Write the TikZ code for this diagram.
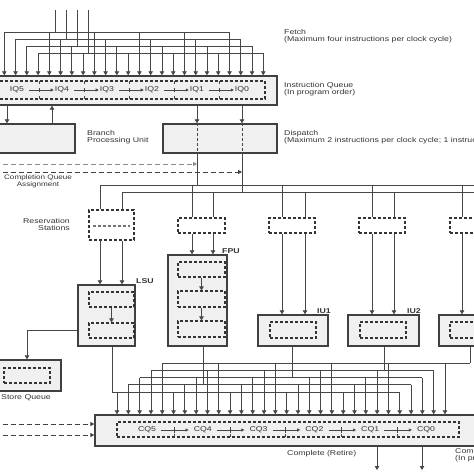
\documentclass[tikz,border=0pt]{standalone}
\usepackage{fontspec}
\setmainfont[FakeStretch=1.25]{Liberation Sans}
\usetikzlibrary{arrows.meta,fit,calc}

\tikzset{
  unitbox/.style={draw=black!75, fill=black!6, line width=1.4pt, inner sep=0pt},
  slotbox/.style={draw=black!80, line width=1.2pt, dash pattern=on 3pt off 2pt, inner sep=0pt},
  wire/.style={draw=black!72, line width=0.85pt},
  feed/.style={wire, -{Triangle[width=4.5pt,length=4pt]}},
  lbl/.style={font=\fontsize{7}{7.5}\selectfont, inner sep=0pt, text=black!80},
  unitname/.style={lbl, font=\fontsize{7}{7.5}\selectfont\bfseries},
  cqa/.style={line width=1pt, dash pattern=on 5pt off 3pt},
}

\begin{document}
\begin{tikzpicture}[x=1pt, y=-1pt]
\useasboundingbox (0,0) rectangle (474,474);
\clip (0,0) rectangle (474,474);

% boxes
\node[unitbox, fit={(-5,76) (277,105)}] (iq) {};
\node[slotbox, fit={(-5,81) (265,99)}] (iqslots) {};
\node[unitbox, fit={(-5,124) (75,153)}] (bpu) {};
\node[unitbox, fit={(163,124) (277,153)}] (disp) {};
\node[unitbox, fit={(78,285) (135,346)}] (lsu) {};
\node[unitbox, fit={(168,255) (227,346)}] (fpu) {};
\node[unitbox, fit={(258,315) (328,346)}] (iu1) {};
\node[unitbox, fit={(348,315) (419,346)}] (iu2) {};
\node[unitbox, fit={(439,315) (520,346)}] (mciu) {};
\node[unitbox, fit={(-5,360) (61,391)}] (sq) {};
\node[unitbox, fit={(95,415) (520,446)}] (cq) {};
\node[slotbox, fit={(117,422) (459,437)}] (cqslots) {};

% reservation stations
\node[slotbox, fit={(89,210) (134,240)}] (rsl) {};
\draw[slotbox, draw=black!55] (93,226) -- (130,226);
\node[slotbox, fit={(178,218) (225,233)}] (rsf) {};
\node[slotbox, fit={(269,218) (315,233)}] (rs1) {};
\node[slotbox, fit={(359,218) (405,233)}] (rs2) {};
\node[slotbox, fit={(450,218) (496,233)}] (rsm) {};

% slots inside the units
\node[slotbox, fit={(89,292) (134,307)}] (lsua) {};
\node[slotbox, fit={(89,323) (134,338)}] (lsub) {};
\draw[feed] (lsua) -- (lsub);
\node[slotbox, fit={(178,262) (225,277)}] (fpua) {};
\node[slotbox, fit={(178,291) (225,307)}] (fpub) {};
\node[slotbox, fit={(178,321) (225,337)}] (fpuc) {};
\draw[feed] (fpua) -- (fpub);
\draw[feed] (fpub) -- (fpuc);
\node[slotbox, fit={(270,322) (316,338)}] (iu1s) {};
\node[slotbox, fit={(360,322) (406,338)}] (iu2s) {};
\node[slotbox, fit={(450,322) (496,338)}] (mcius) {};
\node[slotbox, fit={(4,368) (50,383)}] (sqs) {};

% fetch
\foreach \k/\xin in {0/55,1/66,2/77,3/88} {
  \pgfmathsetmacro\yk{32+7*\k}
  \draw[wire] (\xin,10) -- (\xin,\yk);
  \pgfmathsetmacro\xa{4.3+11.26*\k}
  \pgfmathsetmacro\xb{4.3+11.26*(\k+20)}
  \draw[wire] (\xa,\yk) -- (\xb,\yk);
  \foreach \m in {0,...,5} {
    \pgfmathsetmacro\xd{4.3+11.26*(\k+4*\m)}
    \coordinate (f) at (\xd,\yk);
    \draw[feed] (f) -- (f |- iq.north);
  }
}

% instruction queue entries
\foreach \i/\txt in {0/IQ5,1/IQ4,2/IQ3,3/IQ2,4/IQ1,5/IQ0}
  \node[lbl] (iq\i) at ({17+45*\i},90) {\txt};
\foreach \i/\j in {0/1,1/2,2/3,3/4,4/5} {
  \draw[wire, line width=0.6pt, -{Triangle[width=3pt,length=3pt]}, shorten <=5pt, shorten >=1pt] (iq\i.east) -- (iq\j.west);
  \pgfmathsetmacro\xt{39+45*\i}
  \draw[wire, line width=0.5pt] (\xt,81) -- (\xt,84) (\xt,88) -- (\xt,92) (\xt,96) -- (\xt,99);
}

% branch and dispatch
\coordinate (b1) at (7,0);
\coordinate (b2) at (52,0);
\draw[feed] (b1 |- iq.south) -- (b1 |- bpu.north);
\draw[feed] (b2 |- bpu.north) -- (b2 |- iq.south);

\coordinate (d1) at (197,0);
\coordinate (d2) at (242,0);
\coordinate (busA) at (100,185);
\coordinate (busB) at (122,192);
\draw[feed] (d1 |- iq.south) -- (d1 |- disp.north);
\draw[feed] (d2 |- iq.south) -- (d2 |- disp.north);
\draw[wire, line width=0.5pt, densely dashed] (d1 |- disp.north) -- (d1 |- disp.south);
\draw[wire, line width=0.5pt, densely dashed] (d2 |- disp.north) -- (d2 |- disp.south);
\draw[wire] (d1 |- disp.south) -- (d1 |- busA);
\draw[wire] (d2 |- disp.south) -- (d2 |- busB);
\draw[wire] (busA) -- (480,185);
\draw[wire] (busB) -- (480,192);

% completion queue assignment
\coordinate (qa1) at (-5,164);
\coordinate (qa2) at (-5,172);
\draw[cqa, draw=black!45, -{Triangle[width=4pt,length=4pt]}] (qa1) -- (qa1 -| d1);
\draw[cqa, draw=black!75, -{Triangle[width=4pt,length=4pt]}] (qa2) -- (qa2 -| d2);

% dispatch to reservation stations to units
\foreach \rs/\un/\xa/\xb in {rsl/lsu/100/122, rsf/fpu/192/213, rs1/iu1/282/305, rs2/iu2/372/394, rsm/mciu/462/485} {
  \coordinate (ta) at (\xa,0);
  \coordinate (tb) at (\xb,0);
  \draw[wire] (ta |- busA) -- (ta |- \rs.north);
  \draw[wire] (tb |- busB) -- (tb |- \rs.north);
  \draw[feed] (ta |- \rs.south) -- (ta |- \un.north);
  \draw[feed] (tb |- \rs.south) -- (tb |- \un.north);
}

% load/store to store queue
\coordinate (sqt) at (27,330);
\draw[feed] (lsu.west |- sqt) -- (sqt) -- (sqt |- sq.north);

% units to completion queue
\foreach \un/\k/\xs in {lsu/0/112, fpu/1/203, iu1/2/292, iu2/3/384, mciu/4/470} {
  \pgfmathsetmacro\yk{392-7.2*\k}
  \coordinate (s) at (\xs,\yk);
  \draw[wire] (s |- \un.south) -- (s);
  \pgfmathsetmacro\xa{min(\xs,117+11.31*\k)}
  \pgfmathsetmacro\xb{max(\xs,117+11.31*(\k+25))}
  \draw[wire] (\xa,\yk) -- (\xb,\yk);
  \foreach \m in {0,...,5} {
    \pgfmathsetmacro\xd{117+11.31*(\k+5*\m)}
    \coordinate (c) at (\xd,\yk);
    \draw[feed] (c) -- (c |- cq.north);
  }
}

% completion queue entries
\foreach \i/\txt in {0/CQ5,1/CQ4,2/CQ3,3/CQ2,4/CQ1,5/CQ0}
  \node[lbl] (cq\i) at ({147+55.8*\i},430) {\txt};
\foreach \i/\j in {0/1,1/2,2/3,3/4,4/5} {
  \draw[wire, line width=0.6pt, -{Triangle[width=3pt,length=3pt]}, shorten <=5pt, shorten >=5pt] (cq\i.east) -- (cq\j.west);
  \pgfmathsetmacro\xt{174+55.8*\i}
  \draw[wire, line width=0.5pt] (\xt,427) -- (\xt,433) (\xt,434) -- (\xt,437);
}
\coordinate (qb1) at (-5,424);
\coordinate (qb2) at (-5,435);
\draw[cqa, draw=black!75, -{Triangle[width=4pt,length=4pt]}] (qb1) -- (qb1 -| cq.west);
\draw[cqa, draw=black!75, -{Triangle[width=4pt,length=4pt]}] (qb2) -- (qb2 -| cq.west);
\foreach \xr in {377,422} {
  \coordinate (r) at (\xr,470);
  \draw[feed] (r |- cq.south) -- (r);
}

% texts
\node[lbl, anchor=north west, align=left] (fetch) at (284,29) {Fetch\\(Maximum four instructions per clock cycle)};
\node[lbl, anchor=north west, align=left] (iqtxt) at (284,82) {Instruction Queue\\(In program order)};
\node[lbl, anchor=north west, align=left] (bputxt) at (87,130) {Branch\\Processing Unit};
\node[lbl, anchor=north west, align=left] (disptxt) at (284,130) {Dispatch\\(Maximum 2 instructions per clock cycle; 1 instruction per unit)};
\node[lbl, anchor=north, align=center, font=\fontsize{6.5}{6}\selectfont] (cqatxt) at (38,175) {Completion Queue\\Assignment};
\node[lbl, anchor=north east, align=right] (rstxt) at (70,218) {Reservation\\Stations};
\node[unitname, anchor=west] (lsutxt) at (136,281) {LSU};
\node[unitname, anchor=west] (fputxt) at (222,251) {FPU};
\node[unitname, anchor=west] (iu1txt) at (317,311) {IU1};
\node[unitname, anchor=west] (iu2txt) at (407,311) {IU2};
\node[lbl, anchor=west] (sqtxt) at (1,398) {Store Queue};
\node[lbl, anchor=west] (rettxt) at (287,454) {Complete (Retire)};
\node[lbl, anchor=north west, align=left] (cqtxt) at (455,448) {Completion Queue\\(In program order)};
\end{tikzpicture}
\end{document}
